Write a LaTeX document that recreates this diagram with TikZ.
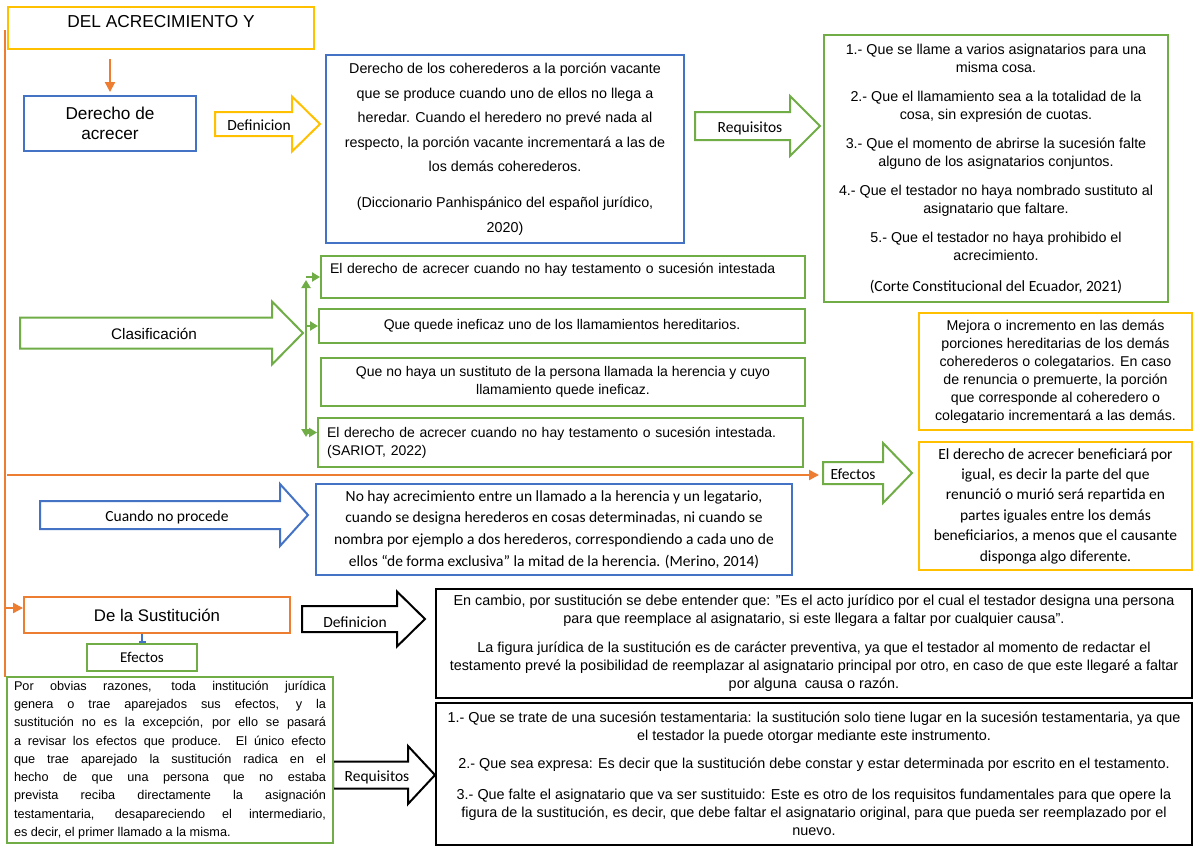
\documentclass[tikz,border=0pt]{standalone}
\usepackage{fontspec}
\setmainfont{Liberation Sans}
\newfontfamily\calib{Carlito}
\usetikzlibrary{arrows.meta}
\definecolor{ocol}{HTML}{ED7D31}
\definecolor{bcol}{HTML}{4472C4}
\definecolor{ycol}{HTML}{FFC000}
\definecolor{gcol}{HTML}{70AD47}
\newcommand\myfs[2]{\fontsize{#1}{#2}\selectfont}
\newcommand\blkarrow[7]{%
  \draw[#1] (#2,{#5-#6}) -- (#3,{#5-#6}) -- (#3,{#5-#7}) -- (#4,#5) -- (#3,{#5+#7}) -- (#3,{#5+#6}) -- (#2,{#5+#6}) -- cycle;}
\begin{document}
\begin{tikzpicture}[x=1pt,y=-1pt,
  box/.style={draw, line width=1.9pt, fill=white, inner sep=3pt, align=center, text=black},
  ybox/.style={box, draw=ycol},
  bbox/.style={box, draw=bcol},
  gbox/.style={box, draw=gcol},
  obox/.style={box, draw=ocol},
  kbox/.style={box, draw=black},
  lbl/.style={inner sep=0pt, font=\calib\myfs{15.5}{17}},
  blkY/.style={draw=ycol, line width=2pt, fill=white},
  blkG/.style={draw=gcol, line width=2pt, fill=white},
  blkB/.style={draw=bcol, line width=2pt, fill=white},
  blkK/.style={draw=black, line width=2pt, fill=white},
  oarrow/.style={draw=ocol, line width=2pt, -{Triangle[length=10pt,width=10pt]}},
  garrow/.style={draw=gcol, line width=2pt, -{Triangle[length=8pt,width=9pt]}},
  gdarrow/.style={draw=gcol, line width=2.2pt, {Triangle[length=8pt,width=9pt]}-{Triangle[length=8pt,width=9pt]}},
  barrow/.style={draw=bcol, line width=1.8pt, -{Bar[width=7pt]}}
]
\useasboundingbox[fill=white] (0,0) rectangle (1200,849);

% orange spine and branches
\coordinate (spTop) at (5,30);
\coordinate (spBot) at (5,677);
\coordinate (brEf) at (7,475);
\coordinate (brSu) at (5,608);
\draw[draw=ocol, line width=2.2pt] (spTop) -- (spBot);

% block arrows (shapes drawn directly)
\blkarrow{blkY}{215}{292}{320}{124}{12}{27.5}
\blkarrow{blkG}{695}{790}{820}{126}{14}{30}
\blkarrow{blkG}{20}{272}{303}{333}{15.5}{31.5}
\blkarrow{blkG}{823}{883}{912}{473}{11}{30}
\blkarrow{blkB}{40}{280}{308}{515}{14}{31}
\blkarrow{blkK}{302}{397}{425}{619}{13}{27.5}
\blkarrow{blkK}{333}{408}{435}{775}{13.5}{29}
\coordinate (efTail) at (823,475);

% arrow labels
\node[lbl] (defA) at (259,125) {Definicion};
\node[lbl] (reqA) at (750,128) {Requisitos};
\node[inner sep=0pt, font=\myfs{15.3}{17}] (clasA) at (154,334) {Clasificación};
\node[lbl] (efA) at (853,474) {Efectos};
\node[lbl] (cnpA) at (167,517) {Cuando no procede};
\node[lbl] (defBA) at (355,622) {Definicion};
\node[lbl] (reqBA) at (377,777) {Requisitos};

% boxes
\node[ybox, minimum width=306pt, minimum height=42pt, font=\myfs{17.3}{20}] (title) at (161,28)
  {\raisebox{6pt}[\height][\depth]{DEL ACRECIMIENTO Y}};
\node[bbox, minimum width=172pt, minimum height=55pt, font=\myfs{17.2}{20}] (dacrecer) at (110,123.5)
  {Derecho de\\acrecer};
\node[bbox, minimum width=358pt, minimum height=188pt, font=\myfs{14.3}{24.5}] (defbox) at (505,149)
  {Derecho de los coherederos a la porción vacante\\
   que se produce cuando uno de ellos no llega a\\
   heredar. Cuando el heredero no prevé nada al\\
   respecto, la porción vacante incrementará a las de\\
   los demás coherederos.\\[11.5pt]
   (Diccionario Panhispánico del español jurídico,\\
   2020)};
\node[gbox, minimum width=344pt, minimum height=267pt, font=\myfs{14.3}{18}] (reqbox) at (996,168.5)
  {1.- Que se llame a varios asignatarios para una\\ misma cosa.\\[11pt]
   2.- Que el llamamiento sea a la totalidad de la\\ cosa, sin expresión de cuotas.\\[11pt]
   3.- Que el momento de abrirse la sucesión falte\\ alguno de los asignatarios conjuntos.\\[11pt]
   4.- Que el testador no haya nombrado sustituto al\\ asignatario que faltare.\\[11pt]
   5.- Que el testador no haya prohibido el\\ acrecimiento.\\[13pt]
   {\calib\myfs{15.5}{18}(Corte Constitucional del Ecuador, 2021)}};
\node[gbox, minimum width=484pt, minimum height=42pt, text width=466pt, align=left, inner xsep=9pt, font=\myfs{14}{18}] (cb1) at (563,277)
  {\raisebox{7pt}[\height][\depth]{El derecho de acrecer cuando no hay testamento o sucesión intestada}};
\node[gbox, minimum width=486pt, minimum height=34pt, font=\myfs{14}{18}] (cb2) at (562,326)
  {Que quede ineficaz uno de los llamamientos hereditarios.};
\node[gbox, minimum width=484pt, minimum height=48pt, font=\myfs{14}{18}] (cb3) at (563,382)
  {Que no haya un sustituto de la persona llamada la herencia y cuyo\\ llamamiento quede ineficaz.};
\node[gbox, minimum width=485pt, minimum height=49pt, text width=467pt, align=left, inner xsep=9pt, font=\myfs{14}{18}] (cb4) at (560.5,442.5)
  {El derecho de acrecer cuando no hay testamento o sucesión intestada.\\ (SARIOT, 2022)};
\node[ybox, minimum width=273pt, minimum height=117pt, font=\myfs{14.2}{17.9}] (yb1) at (1055.5,371.5)
  {Mejora o incremento en las demás\\ porciones hereditarias de los demás\\ coherederos o colegatarios. En caso\\ de renuncia o premuerte, la porción\\ que corresponde al coheredero o\\ colegatario incrementará a las demás.};
\node[ybox, minimum width=273pt, minimum height=128pt, font=\calib\myfs{15.5}{20.4}] (yb2) at (1055.5,506)
  {El derecho de acrecer beneficiará por\\ igual, es decir la parte del que\\ renunció o murió será repartida en\\ partes iguales entre los demás\\ beneficiarios, a menos que el causante\\ disponga algo diferente.};
\node[bbox, minimum width=476pt, minimum height=91pt, font=\calib\myfs{15.5}{21.7}] (merino) at (554,529.5)
  {No hay acrecimiento entre un llamado a la herencia y un legatario,\\
   cuando se designa herederos en cosas determinadas, ni cuando se\\
   nombra por ejemplo a dos herederos, correspondiendo a cada uno de\\
   ellos “de forma exclusiva” la mitad de la herencia. (Merino, 2014)};
\node[obox, minimum width=266pt, minimum height=36pt, font=\myfs{16.8}{19}] (sust) at (157,615)
  {De la Sustitución};
\node[gbox, minimum width=110pt, minimum height=27pt, font=\calib\myfs{15}{16}] (efsmall) at (142,657.5)
  {Efectos};
\node[kbox, minimum width=756pt, minimum height=109pt, font=\myfs{14.4}{18}] (blk1) at (814,643.5)
  {En cambio, por sustitución se debe entender que: "Es el acto jurídico por el cual el testador designa una persona\\
   para que reemplace al asignatario, si este llegara a faltar por cualquier causa".\\[11pt]
   La figura jurídica de la sustitución es de carácter preventiva, ya que el testador al momento de redactar el\\
   testamento prevé la posibilidad de reemplazar al asignatario principal por otro, en caso de que este llegaré a faltar\\
   por alguna\ \ causa o razón.};
\node[kbox, minimum width=756pt, minimum height=142pt, font=\myfs{14.4}{18}] (blk2) at (814,774)
  {1.- Que se trate de una sucesión testamentaria: la sustitución solo tiene lugar en la sucesión testamentaria, ya que\\
   el testador la puede otorgar mediante este instrumento.\\[10pt]
   2.- Que sea expresa: Es decir que la sustitución debe constar y estar determinada por escrito en el testamento.\\[13pt]
   3.- Que falte el asignatario que va ser sustituido: Este es otro de los requisitos fundamentales para que opere la\\
   figura de la sustitución, es decir, que debe faltar el asignatario original, para que pueda ser reemplazado por el\\
   nuevo.};
\node[gbox, minimum width=326pt, minimum height=166pt, text width=312pt, align=justify, inner xsep=7pt, font=\myfs{12.7}{18.3}] (gpar) at (170,760)
  {\hyphenpenalty=10000\exhyphenpenalty=10000
   Por obvias razones, toda institución jurídica\linebreak
   genera o trae aparejados sus efectos, y la\linebreak
   sustitución no es la excepción, por ello se pasará\linebreak
   a revisar los efectos que produce. El único efecto\linebreak
   que trae aparejado la sustitución radica en el\linebreak
   hecho de que una persona que no estaba\linebreak
   prevista reciba directamente la asignación\linebreak
   testamentaria, desapareciendo el intermediario,\linebreak
   es decir, el primer llamado a la misma.};

% connectors
\coordinate (cb4in) at ([yshift=10pt]cb4.west);
\coordinate (brTop) at (306,280);
\coordinate (brBot) at (306,437);
\draw[oarrow, shorten <=9pt, shorten >=3pt] (title.south -| dacrecer.north) -- (dacrecer.north);
\draw[oarrow, shorten >=4pt] (brEf) -- (efTail);
\draw[oarrow] (brSu) -- (brSu -| sust.west);
\draw[barrow] (sust.south -| efsmall.north) -- (efsmall.north);
\draw[gdarrow] (brTop) -- (brBot);
\draw[garrow] (brTop |- cb1.west) -- (cb1.west);
\draw[garrow] (brTop |- cb2.west) -- (cb2.west);
\draw[garrow] (brTop |- cb4in) -- (cb4in);
\end{tikzpicture}
\end{document}
